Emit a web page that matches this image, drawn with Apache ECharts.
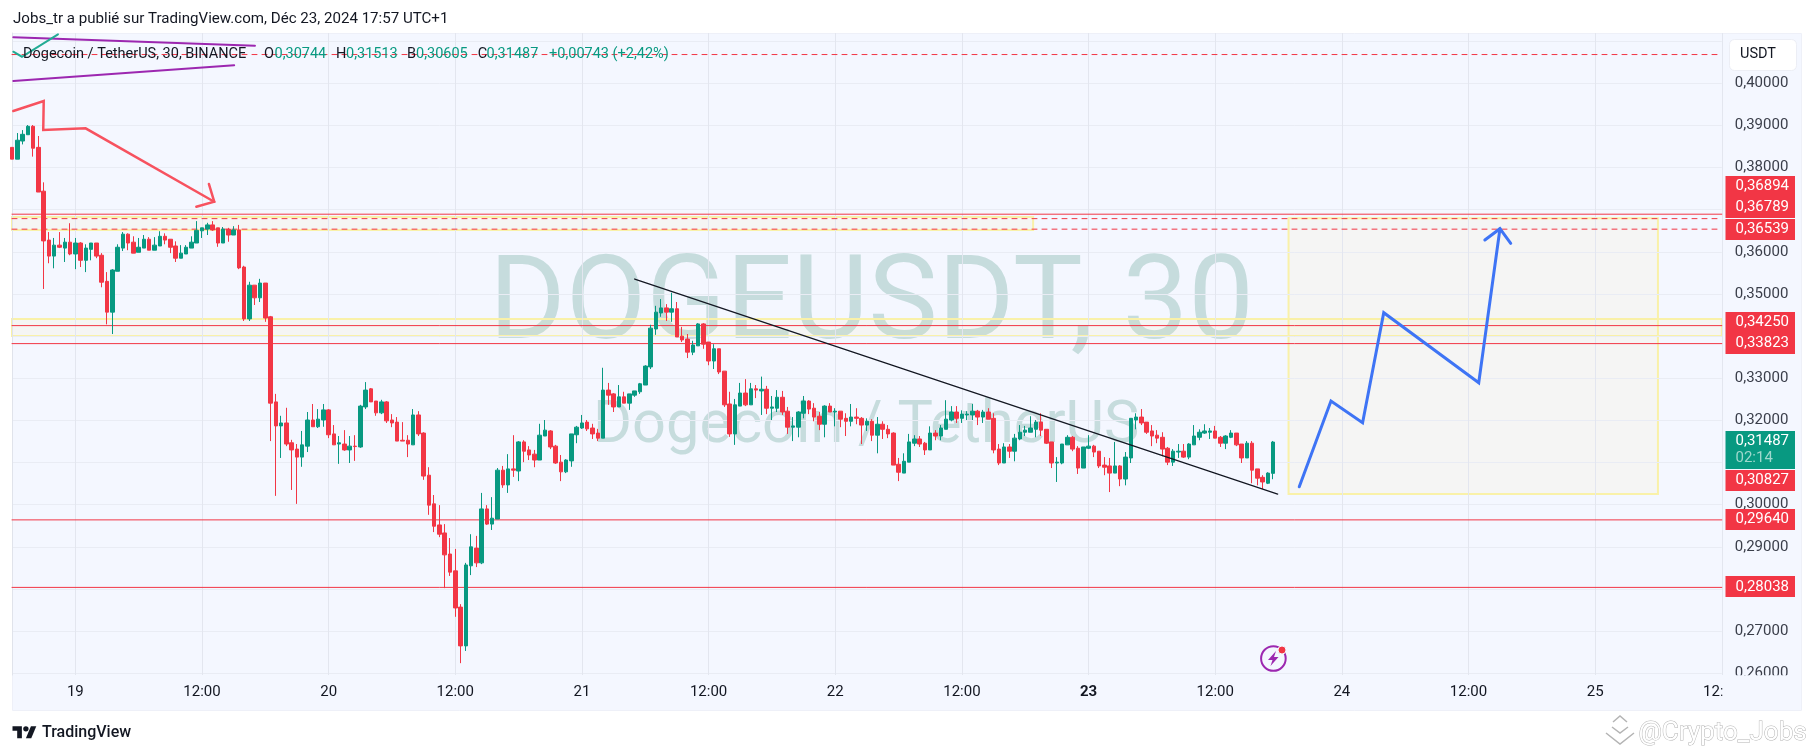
<!DOCTYPE html>
<html>
<head>
<meta charset="utf-8">
<title>DOGEUSDT, 30</title>
<script src="https://cdn.jsdelivr.net/npm/echarts@6/dist/echarts.min.js"></script>
<style>
  html, body { margin: 0; padding: 0; background: #fff; }
  #main { width: 1814px; height: 754px; }
</style>
</head>
<body>
<div id="main"></div>
<script>
// candles per day, each row is [open, close, low, high]
var dec18 = [
  [0.3848,0.3820,0.3820,0.3848],[0.3820,0.3865,0.3820,0.3882],[0.3863,0.3879,0.3855,0.3889],[0.3878,0.3898,0.3878,0.3901],
  [0.3898,0.3846,0.3826,0.3901],[0.3848,0.3742,0.3742,0.3875],[0.3744,0.3626,0.3512,0.3765],[0.3628,0.3590,0.3573,0.3647],
  [0.3590,0.3616,0.3561,0.3633],[0.3616,0.3611,0.3609,0.3647],[0.3609,0.3623,0.3576,0.3633],[0.3623,0.3595,0.3592,0.3668]
];
var dec19 = [
  [0.3595,0.3621,0.3559,0.3633],[0.3621,0.3580,0.3564,0.3623],[0.3580,0.3609,0.3552,0.3618],[0.3606,0.3621,0.3580,0.3621],
  [0.3621,0.3590,0.3585,0.3621],[0.3592,0.3528,0.3516,0.3597],[0.3530,0.3457,0.3428,0.3552],[0.3457,0.3557,0.3405,0.3559],
  [0.3554,0.3611,0.3554,0.3618],[0.3609,0.3642,0.3602,0.3647],[0.3642,0.3621,0.3604,0.3644],[0.3623,0.3597,0.3597,0.3637],
  [0.3599,0.3611,0.3599,0.3633],[0.3609,0.3630,0.3609,0.3640],[0.3630,0.3604,0.3604,0.3635],[0.3604,0.3616,0.3604,0.3635],
  [0.3614,0.3637,0.3614,0.3649],[0.3637,0.3628,0.3618,0.3644],[0.3630,0.3611,0.3597,0.3630],[0.3614,0.3585,0.3576,0.3625],
  [0.3585,0.3597,0.3585,0.3616],[0.3595,0.3611,0.3595,0.3616],[0.3609,0.3623,0.3609,0.3637],[0.3621,0.3651,0.3621,0.3673],
  [0.3650,0.3657,0.3633,0.3657],[0.3654,0.3664,0.3640,0.3669],[0.3664,0.3652,0.3650,0.3673],[0.3657,0.3621,0.3612,0.3657],
  [0.3621,0.3654,0.3621,0.3659],[0.3654,0.3640,0.3624,0.3657],[0.3640,0.3652,0.3640,0.3661],[0.3652,0.3562,0.3559,0.3664],
  [0.3564,0.3441,0.3436,0.3567],[0.3441,0.3521,0.3436,0.3529],[0.3521,0.3491,0.3474,0.3521],[0.3491,0.3526,0.3481,0.3536],
  [0.3526,0.3443,0.3434,0.3526],[0.3446,0.3241,0.3151,0.3448],[0.3244,0.3187,0.3021,0.3263],[0.3187,0.3194,0.3111,0.3211],
  [0.3194,0.3144,0.3139,0.3230],[0.3147,0.3130,0.3035,0.3154],[0.3132,0.3113,0.3002,0.3144],[0.3113,0.3142,0.3090,0.3175],
  [0.3139,0.3201,0.3125,0.3220],[0.3201,0.3185,0.3185,0.3239],[0.3185,0.3203,0.3182,0.3227],[0.3201,0.3225,0.3185,0.3239]
];
var dec20 = [
  [0.3225,0.3166,0.3158,0.3227],[0.3168,0.3142,0.3142,0.3189],[0.3144,0.3147,0.3097,0.3163],[0.3144,0.3130,0.3128,0.3177],
  [0.3130,0.3139,0.3099,0.3163],[0.3139,0.3138,0.3104,0.3165],[0.3137,0.3234,0.3135,0.3237],[0.3232,0.3272,0.3227,0.3291],
  [0.3275,0.3244,0.3244,0.3277],[0.3246,0.3218,0.3211,0.3246],[0.3218,0.3244,0.3215,0.3249],[0.3244,0.3199,0.3194,0.3246],
  [0.3201,0.3194,0.3184,0.3215],[0.3196,0.3151,0.3151,0.3208],[0.3153,0.3151,0.3151,0.3196],[0.3153,0.3144,0.3113,0.3165],
  [0.3142,0.3213,0.3142,0.3227],[0.3213,0.3168,0.3163,0.3222],[0.3170,0.3068,0.3059,0.3172],[0.3070,0.2999,0.2976,0.3089],
  [0.3002,0.2949,0.2935,0.3023],[0.2952,0.2930,0.2923,0.2999],[0.2933,0.2881,0.2802,0.2954],[0.2883,0.2840,0.2831,0.2921],
  [0.2843,0.2755,0.2734,0.2895],[0.2757,0.2665,0.2624,0.2764],[0.2665,0.2857,0.2653,0.2862],[0.2855,0.2900,0.2833,0.2930],
  [0.2897,0.2862,0.2852,0.2926],[0.2862,0.2990,0.2859,0.3028],[0.2990,0.2954,0.2952,0.2999],[0.2954,0.2968,0.2940,0.3018],
  [0.2966,0.3082,0.2966,0.3087],[0.3082,0.3047,0.3040,0.3092],[0.3047,0.3085,0.3028,0.3120],[0.3085,0.3082,0.3066,0.3165],
  [0.3080,0.3149,0.3056,0.3151],[0.3149,0.3127,0.3101,0.3153],[0.3130,0.3118,0.3106,0.3139],[0.3120,0.3106,0.3089,0.3130],
  [0.3106,0.3165,0.3106,0.3192],[0.3163,0.3177,0.3163,0.3201],[0.3175,0.3137,0.3132,0.3177],[0.3139,0.3099,0.3097,0.3142],
  [0.3101,0.3078,0.3056,0.3118],[0.3078,0.3106,0.3075,0.3108],[0.3104,0.3168,0.3090,0.3168],[0.3166,0.3184,0.3146,0.3187]
];
var dec21 = [
  [0.3182,0.3194,0.3180,0.3213],[0.3196,0.3180,0.3175,0.3201],[0.3182,0.3168,0.3156,0.3192],[0.3170,0.3158,0.3151,0.3180],
  [0.3158,0.3272,0.3158,0.3325],[0.3272,0.3260,0.3237,0.3289],[0.3263,0.3232,0.3220,0.3265],[0.3232,0.3256,0.3232,0.3284],
  [0.3256,0.3241,0.3241,0.3268],[0.3241,0.3263,0.3225,0.3263],[0.3260,0.3270,0.3256,0.3270],[0.3268,0.3287,0.3263,0.3289],
  [0.3284,0.3329,0.3284,0.3331],[0.3327,0.3419,0.3322,0.3427],[0.3417,0.3457,0.3403,0.3472],[0.3455,0.3467,0.3446,0.3488],
  [0.3467,0.3457,0.3436,0.3476],[0.3457,0.3465,0.3434,0.3503],[0.3465,0.3398,0.3398,0.3481],[0.3400,0.3391,0.3386,0.3422],
  [0.3393,0.3362,0.3348,0.3405],[0.3362,0.3379,0.3355,0.3389],[0.3377,0.3429,0.3377,0.3431],[0.3429,0.3381,0.3370,0.3431],
  [0.3386,0.3341,0.3331,0.3386],[0.3341,0.3370,0.3322,0.3381],[0.3370,0.3315,0.3310,0.3370],[0.3317,0.3237,0.3232,0.3317],
  [0.3239,0.3168,0.3161,0.3268],[0.3168,0.3237,0.3142,0.3251],[0.3234,0.3265,0.3234,0.3289],[0.3265,0.3237,0.3234,0.3298],
  [0.3237,0.3275,0.3237,0.3289],[0.3275,0.3272,0.3253,0.3284],[0.3270,0.3274,0.3213,0.3304],[0.3274,0.3229,0.3215,0.3282],
  [0.3229,0.3232,0.3201,0.3258],[0.3229,0.3255,0.3220,0.3272],[0.3255,0.3220,0.3213,0.3270],[0.3222,0.3184,0.3168,0.3232],
  [0.3184,0.3187,0.3151,0.3208],[0.3184,0.3220,0.3160,0.3222],[0.3217,0.3246,0.3205,0.3258],[0.3246,0.3227,0.3215,0.3248],
  [0.3229,0.3208,0.3198,0.3241],[0.3210,0.3191,0.3177,0.3220],[0.3191,0.3234,0.3160,0.3236],[0.3234,0.3220,0.3220,0.3241]
];
var dec22 = [
  [0.3220,0.3222,0.3186,0.3229],[0.3222,0.3203,0.3184,0.3222],[0.3205,0.3198,0.3163,0.3217],[0.3198,0.3208,0.3186,0.3239],
  [0.3208,0.3205,0.3191,0.3229],[0.3205,0.3189,0.3144,0.3208],[0.3189,0.3198,0.3175,0.3205],[0.3198,0.3165,0.3151,0.3203],
  [0.3165,0.3191,0.3122,0.3208],[0.3191,0.3179,0.3156,0.3198],[0.3179,0.3168,0.3158,0.3189],[0.3170,0.3094,0.3094,0.3172],
  [0.3096,0.3077,0.3056,0.3111],[0.3075,0.3103,0.3075,0.3122],[0.3101,0.3149,0.3101,0.3168],[0.3146,0.3156,0.3139,0.3165],
  [0.3156,0.3144,0.3137,0.3163],[0.3146,0.3130,0.3118,0.3149],[0.3130,0.3170,0.3130,0.3186],[0.3170,0.3163,0.3153,0.3177],
  [0.3163,0.3182,0.3153,0.3189],[0.3179,0.3203,0.3179,0.3248],[0.3201,0.3220,0.3198,0.3234],[0.3220,0.3205,0.3194,0.3234],
  [0.3205,0.3215,0.3194,0.3224],[0.3213,0.3215,0.3201,0.3222],[0.3213,0.3222,0.3201,0.3239],[0.3222,0.3208,0.3189,0.3225],
  [0.3208,0.3220,0.3194,0.3225],[0.3220,0.3203,0.3203,0.3229],[0.3205,0.3130,0.3122,0.3217],[0.3132,0.3099,0.3094,0.3144],
  [0.3099,0.3137,0.3099,0.3146],[0.3137,0.3127,0.3111,0.3144],[0.3127,0.3158,0.3103,0.3168],[0.3156,0.3172,0.3153,0.3189],
  [0.3172,0.3177,0.3163,0.3187],[0.3172,0.3182,0.3172,0.3210],[0.3179,0.3196,0.3160,0.3201],[0.3196,0.3177,0.3163,0.3217],
  [0.3179,0.3146,0.3144,0.3179],[0.3149,0.3099,0.3087,0.3149],[0.3099,0.3101,0.3054,0.3113],[0.3099,0.3144,0.3096,0.3144],
  [0.3142,0.3160,0.3142,0.3165],[0.3160,0.3132,0.3127,0.3163],[0.3134,0.3087,0.3073,0.3139],[0.3087,0.3137,0.3087,0.3137]
];
var dec23 = [
  [0.3134,0.3139,0.3132,0.3165],[0.3139,0.3125,0.3113,0.3142],[0.3127,0.3092,0.3087,0.3127],[0.3094,0.3089,0.3070,0.3113],
  [0.3092,0.3075,0.3030,0.3111],[0.3075,0.3092,0.3075,0.3149],[0.3092,0.3061,0.3044,0.3094],[0.3061,0.3113,0.3046,0.3125],
  [0.3111,0.3205,0.3099,0.3205],[0.3201,0.3208,0.3179,0.3217],[0.3208,0.3194,0.3189,0.3227],[0.3196,0.3172,0.3168,0.3196],
  [0.3175,0.3163,0.3139,0.3189],[0.3165,0.3158,0.3146,0.3177],[0.3160,0.3132,0.3115,0.3172],[0.3134,0.3101,0.3094,0.3137],
  [0.3101,0.3127,0.3092,0.3132],[0.3125,0.3127,0.3111,0.3144],[0.3127,0.3113,0.3111,0.3144],[0.3113,0.3144,0.3108,0.3146],
  [0.3142,0.3163,0.3142,0.3189],[0.3160,0.3172,0.3153,0.3179],[0.3170,0.3175,0.3168,0.3191],[0.3172,0.3175,0.3156,0.3182],
  [0.3175,0.3158,0.3158,0.3187],[0.3160,0.3146,0.3137,0.3163],[0.3146,0.3163,0.3132,0.3165],[0.3160,0.3170,0.3158,0.3177],
  [0.3170,0.3142,0.3139,0.3170],[0.3144,0.3111,0.3099,0.3144],[0.3111,0.3146,0.3111,0.3151],[0.3146,0.3082,0.3051,0.3151],
  [0.3085,0.3063,0.3046,0.3085],[0.3065,0.3054,0.3037,0.3070],[0.3051,0.3075,0.3049,0.3077],[0.30744,0.31487,0.30605,0.31513]
];

var tickLabels = ['19','12:00','20','12:00','21','12:00','22','12:00','23','12:00','24','12:00','25','12:00'];
var priceTicks = [0.41,0.40,0.39,0.38,0.37,0.36,0.35,0.34,0.33,0.32,0.31,0.30,0.29,0.28,0.27,0.26];

// horizontal levels
var solidLevels = [0.36894, 0.34250, 0.33823, 0.29640, 0.28038];
var dashedLevels = [0.40683, 0.36789, 0.36539];

// drawings as [bar number, price]
var purpleTop = [[0.25,0.41092],[46.04,0.40892]];
var purpleBottom = [[0.25,0.40055],[42.1,0.40427]];
var tealTick = [[0.25,0.4075],[1.88,0.40631],[8.71,0.41163]];
var redPath = [[0.25,0.39343],[6.01,0.3958],[5.92,0.38892],[13.95,0.38932],[38.32,0.3719]];
var redHead = [[37.32,0.3761],[38.32,0.3719],[34.93,0.37072]];
var trendLine = [[118,0.35356],[239.84,0.30254]];
var bluePath = [[243.93,0.30427],[249.94,0.32461],[255.93,0.31946],[259.94,0.34556],[277.94,0.32895],[281.96,0.3655]];
var blueHead = [[279.1,0.36281],[281.96,0.3655],[284,0.36203]];

// zones as [[bar, price], [bar, price]]
var zoneTop = [[0,0.3683],[193.5,0.3652]];
var zoneMiddle = [[0,0.34407],[324,0.34003]];
var targetBox = [[241.9,0.36797],[311.9,0.30254]];

var UP = '#089981', DOWN = '#f23645';
var FONT = 'Roboto, sans-serif';
var PANEL = '#f4f7ff';

var candles = dec18.concat(dec19, dec20, dec21, dec22, dec23);
var categories = [];
for (var i = 0; i <= 324; i++) {
  categories.push((i - 12) % 24 === 0 && i >= 12 ? tickLabels[(i - 12) / 24] : '');
}

function priceText(v) {
  return v.toFixed(5).replace('.', ',');
}

function overlay(data, color, width, z, type) {
  return {
    type: 'line', xAxisIndex: 1, data: data, showSymbol: false, silent: true, z: z,
    lineStyle: { color: color, width: width, type: type || 'solid', cap: 'round', join: 'miter' }
  };
}

function zone(box) {
  return {
    type: 'line', xAxisIndex: 1, data: [], silent: true, z: 5,
    markArea: {
      silent: true,
      itemStyle: { color: 'rgba(255,236,144,0.1)', borderColor: '#f9f1a9', borderWidth: 2 },
      data: [[{ coord: box[0] }, { coord: box[1] }]]
    }
  };
}

function text(x, y, str, size, color, extra) {
  return {
    type: 'text', x: x, y: y, z: (extra && extra.z) || 25, silent: true,
    style: Object.assign({ text: str, font: size + 'px ' + FONT, fill: color, textVerticalAlign: 'middle' }, extra && extra.style)
  };
}

function rect(x, y, w, h, fill, z, stroke, r) {
  return {
    type: 'rect', z: z, silent: true,
    shape: { x: x, y: y, width: w, height: h, r: r || 0 },
    style: { fill: fill, stroke: stroke || null }
  };
}

// price scale tags
var tagRects = [
  [176, 42, DOWN], [219, 21, DOWN], [312, 42, DOWN], [431, 38, UP], [470, 21, DOWN], [509, 21, DOWN], [576, 21, DOWN]
];
var tagTexts = [
  ['0,36894', 186], ['0,36789', 207], ['0,36539', 229.5], ['0,34250', 322], ['0,33823', 343],
  ['0,31487', 441], ['0,30827', 480.5], ['0,29640', 519.5], ['0,28038', 587]
];

var graphics = [
  rect(12.5, 33.5, 1789, 677, PANEL, -1, '#eef0f8'),
  text(489, 309, 'DOGEUSDT, 30', 117, '#c6dcdd', { z: 1 }),
  text(593, 427, 'Dogecoin / TetherUS', 59.5, '#c6dcdd', { z: 1 }),
  rect(13, 675.5, 1788, 34, PANEL, 3),
  rect(1722.5, 675.5, 78, 34, PANEL, 5),

  text(13, 19, 'Jobs_tr a publié sur TradingView.com, Déc 23, 2024 17:57 UTC+1', 15.1, '#131722'),
  text(23, 54, 'Dogecoin / TetherUS, 30, BINANCE', 14.5, '#131722'),
  text(264, 54, 'O', 14.5, '#131722'),
  text(274.5, 54, '0,30744', 14.5, UP),
  text(336, 54, 'H', 14.5, '#131722'),
  text(346, 54, '0,31513', 14.5, UP),
  text(407, 54, 'B', 14.5, '#131722'),
  text(416, 54, '0,30605', 14.5, UP),
  text(477.7, 54, 'C', 14.5, '#131722'),
  text(486.6, 54, '0,31487', 14.5, UP),
  text(549, 54, '+0,00743 (+2,42%)', 14.5, UP),

  rect(1729.5, 39.5, 67, 31, '#ffffff', 25, '#eceef5', 5),
  text(1740, 54.5, 'USDT', 14.5, '#131722'),

  // lightning icon
  { type: 'circle', z: 25, silent: true, shape: { cx: 1273.4, cy: 658.5, r: 12.3 }, style: { fill: 'none', stroke: '#9c27b0', lineWidth: 2 } },
  { type: 'polygon', z: 25, silent: true, shape: { points: [[1276,651],[1268,660],[1272.5,660],[1270.5,666],[1278.5,657],[1274,657]] }, style: { fill: '#9c27b0' } },
  { type: 'circle', z: 26, silent: true, shape: { cx: 1282, cy: 650, r: 4 }, style: { fill: DOWN, stroke: PANEL, lineWidth: 1 } },

  // footer
  { type: 'polygon', z: 25, silent: true, x: 12.5, y: 723.5, scaleX: 0.67, scaleY: 0.67,
    shape: { points: [[0,4],[14,4],[14,22],[7,22],[7,11],[0,11]] }, style: { fill: '#131722' } },
  { type: 'polygon', z: 25, silent: true, x: 12.5, y: 723.5, scaleX: 0.67, scaleY: 0.67,
    shape: { points: [[20,22],[27.5,4],[35.5,4],[28,22]] }, style: { fill: '#131722' } },
  { type: 'circle', z: 25, silent: true, x: 12.5, y: 723.5, scaleX: 0.67, scaleY: 0.67, shape: { cx: 20, cy: 8, r: 4 }, style: { fill: '#131722' } },
  text(42, 733, 'TradingView', 16, '#131722', { style: { font: '500 16px ' + FONT } }),

  text(1638.5, 733, '@Crypto_Jobs', 26, '#ffffff', { style: { stroke: '#b4b4b4', lineWidth: 1 } }),
  { type: 'polyline', z: 25, silent: true, shape: { points: [[1606,733],[1620,744],[1634,733]] }, style: { fill: 'none', stroke: '#b4b4b4', lineWidth: 1.5 } },
  { type: 'polyline', z: 25, silent: true, shape: { points: [[1612,727],[1620,733],[1628,727]] }, style: { fill: 'none', stroke: '#b4b4b4', lineWidth: 1.5 } },
  { type: 'polyline', z: 25, silent: true, shape: { points: [[1613,722],[1620,716],[1627,722]] }, style: { fill: 'none', stroke: '#b4b4b4', lineWidth: 1.5 } }
];
tagRects.forEach(function (t) {
  graphics.push(rect(1725.5, t[0], 69.5, t[1], t[2], 30));
});
tagTexts.forEach(function (t) {
  graphics.push(text(1735.5, t[1], t[0], 15, '#ffffff', { z: 31 }));
});
graphics.push(text(1735.5, 458, '02:14', 15, '#9fd8cd', { z: 31 }));

var series = [
  {
    type: 'candlestick', data: candles, z: 20, silent: true, barWidth: 4,
    itemStyle: { color: UP, color0: DOWN, borderColor: UP, borderColor0: DOWN, borderColorDoji: UP, borderWidth: 1 }
  },
  zone(zoneTop), zone(zoneMiddle), zone(targetBox)
];
solidLevels.forEach(function (p) {
  series.push(overlay([[0, p], [324, p]], DOWN, 1, 15));
});
dashedLevels.forEach(function (p) {
  series.push(overlay([[0, p], [324, p]], DOWN, 1, 15, [5, 5]));
});
series.push(
  overlay(purpleTop, '#9c27b0', 2, 21),
  overlay(purpleBottom, '#9c27b0', 2, 21),
  overlay(tealTick, '#22ab94', 2, 21),
  overlay(redPath, '#f7525f', 2.5, 21),
  overlay(redHead, '#f7525f', 2.5, 21),
  overlay(trendLine, '#131722', 1.3, 21),
  overlay(bluePath, '#3e74f5', 3, 21),
  overlay(blueHead, '#3e74f5', 3, 21)
);

var myChart = echarts.init(document.getElementById('main'));
var option = {
  animation: false,
  backgroundColor: '#ffffff',
  grid: { left: 12, top: 33, width: 1709.8, height: 642, containLabel: false },
  xAxis: [
    {
      type: 'category', data: categories, boundaryGap: false, z: 4,
      axisLine: { show: false },
      axisTick: { show: false },
      splitLine: {
        show: true,
        interval: function (index, value) { return value !== ''; },
        lineStyle: { color: '#e3e6ef', width: 1 }
      },
      axisLabel: {
        show: true, margin: 10, color: '#131722', fontFamily: 'Roboto', fontSize: 15,
        interval: function (index, value) { return value !== ''; },
        formatter: function (value) { return value === '23' ? '{b|23}' : value; },
        rich: { b: { fontWeight: 'bold', fontSize: 15, fontFamily: 'Roboto', color: '#131722' } }
      }
    },
    { type: 'value', min: 0, max: 324, show: false, splitLine: { show: false } }
  ],
  yAxis: {
    type: 'value', position: 'right', min: 0.25959, max: 0.41194, z: 2,
    axisLine: { show: true, lineStyle: { color: '#e0e3eb' } },
    axisTick: { show: false, customValues: priceTicks },
    splitLine: { show: true, lineStyle: { color: '#e9ecf4', width: 1 } },
    axisLabel: {
      margin: 13, color: '#3a3e4a', fontFamily: 'Roboto', fontSize: 15,
      customValues: priceTicks.slice(1),
      formatter: priceText
    }
  },
  series: series,
  graphic: graphics
};
option && myChart.setOption(option);
</script>
</body>
</html>
